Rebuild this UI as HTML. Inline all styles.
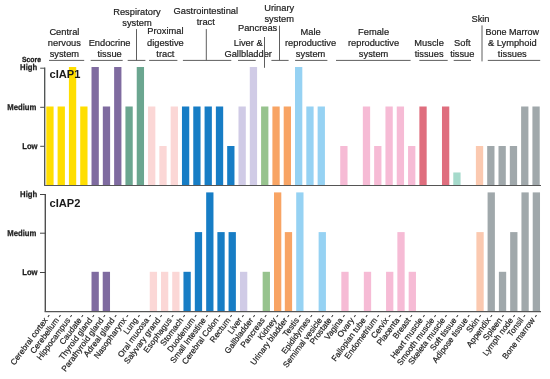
<!DOCTYPE html><html><head><meta charset="utf-8"><style>
html,body{margin:0;padding:0;background:#fff;overflow:hidden;}
svg{display:block;will-change:transform;}
text{font-family:"Liberation Sans",sans-serif;}
</style></head><body>
<svg width="550" height="379" viewBox="0 0 550 379">
<rect width="550" height="379" fill="#fff"/>
<rect x="46.30" y="106.50" width="7.3" height="79.00" fill="#FFDE00"/>
<rect x="57.60" y="106.50" width="7.3" height="79.00" fill="#FFDE00"/>
<rect x="68.91" y="67.00" width="7.3" height="118.50" fill="#FFDE00"/>
<rect x="80.22" y="106.50" width="7.3" height="79.00" fill="#FFDE00"/>
<rect x="91.52" y="67.00" width="7.3" height="118.50" fill="#7F6BA0"/>
<rect x="91.52" y="271.80" width="7.3" height="39.70" fill="#7F6BA0"/>
<rect x="102.82" y="106.50" width="7.3" height="79.00" fill="#7F6BA0"/>
<rect x="102.72" y="271.80" width="7.3" height="39.70" fill="#7F6BA0"/>
<rect x="114.13" y="67.00" width="7.3" height="118.50" fill="#7F6BA0"/>
<rect x="125.43" y="106.50" width="7.3" height="79.00" fill="#6BA690"/>
<rect x="136.74" y="67.00" width="7.3" height="118.50" fill="#6BA690"/>
<rect x="148.05" y="106.50" width="7.3" height="79.00" fill="#FBD7D6"/>
<rect x="149.75" y="271.80" width="7.3" height="39.70" fill="#FBD7D6"/>
<rect x="159.35" y="146.00" width="7.3" height="39.50" fill="#FBD7D6"/>
<rect x="160.98" y="271.80" width="7.3" height="39.70" fill="#FBD7D6"/>
<rect x="170.65" y="106.50" width="7.3" height="79.00" fill="#FBD7D6"/>
<rect x="172.22" y="271.80" width="7.3" height="39.70" fill="#FBD7D6"/>
<rect x="181.96" y="106.50" width="7.3" height="79.00" fill="#177DC5"/>
<rect x="183.46" y="271.80" width="7.3" height="39.70" fill="#177DC5"/>
<rect x="193.26" y="106.50" width="7.3" height="79.00" fill="#177DC5"/>
<rect x="194.81" y="232.10" width="7.3" height="79.40" fill="#177DC5"/>
<rect x="204.57" y="106.50" width="7.3" height="79.00" fill="#177DC5"/>
<rect x="206.17" y="192.40" width="7.3" height="119.10" fill="#177DC5"/>
<rect x="215.88" y="106.50" width="7.3" height="79.00" fill="#177DC5"/>
<rect x="217.38" y="232.10" width="7.3" height="79.40" fill="#177DC5"/>
<rect x="227.18" y="146.00" width="7.3" height="39.50" fill="#177DC5"/>
<rect x="228.58" y="232.10" width="7.3" height="79.40" fill="#177DC5"/>
<rect x="238.49" y="106.50" width="7.3" height="79.00" fill="#D0CBE6"/>
<rect x="239.99" y="271.80" width="7.3" height="39.70" fill="#D0CBE6"/>
<rect x="249.79" y="67.00" width="7.3" height="118.50" fill="#D0CBE6"/>
<rect x="261.09" y="106.50" width="7.3" height="79.00" fill="#97C38E"/>
<rect x="262.66" y="271.80" width="7.3" height="39.70" fill="#97C38E"/>
<rect x="272.40" y="106.50" width="7.3" height="79.00" fill="#F8A464"/>
<rect x="274.00" y="192.40" width="7.3" height="119.10" fill="#F8A464"/>
<rect x="283.70" y="106.50" width="7.3" height="79.00" fill="#F8A464"/>
<rect x="284.81" y="232.10" width="7.3" height="79.40" fill="#F8A464"/>
<rect x="295.01" y="67.00" width="7.3" height="118.50" fill="#96D2F3"/>
<rect x="296.21" y="192.40" width="7.3" height="119.10" fill="#96D2F3"/>
<rect x="306.31" y="106.50" width="7.3" height="79.00" fill="#96D2F3"/>
<rect x="317.62" y="106.50" width="7.3" height="79.00" fill="#96D2F3"/>
<rect x="318.62" y="232.10" width="7.3" height="79.40" fill="#96D2F3"/>
<rect x="340.23" y="146.00" width="7.3" height="39.50" fill="#F6BBD5"/>
<rect x="341.33" y="271.80" width="7.3" height="39.70" fill="#F6BBD5"/>
<rect x="362.84" y="106.50" width="7.3" height="79.00" fill="#F6BBD5"/>
<rect x="363.84" y="271.80" width="7.3" height="39.70" fill="#F6BBD5"/>
<rect x="374.14" y="146.00" width="7.3" height="39.50" fill="#F6BBD5"/>
<rect x="385.45" y="106.50" width="7.3" height="79.00" fill="#F6BBD5"/>
<rect x="386.05" y="271.80" width="7.3" height="39.70" fill="#F6BBD5"/>
<rect x="396.75" y="106.50" width="7.3" height="79.00" fill="#F6BBD5"/>
<rect x="397.36" y="232.10" width="7.3" height="79.40" fill="#F6BBD5"/>
<rect x="408.06" y="146.00" width="7.3" height="39.50" fill="#F6BBD5"/>
<rect x="408.66" y="271.80" width="7.3" height="39.70" fill="#F6BBD5"/>
<rect x="419.37" y="106.50" width="7.3" height="79.00" fill="#DF6E7E"/>
<rect x="441.98" y="106.50" width="7.3" height="79.00" fill="#DF6E7E"/>
<rect x="453.28" y="172.47" width="7.3" height="13.03" fill="#A5DACB"/>
<rect x="475.89" y="146.00" width="7.3" height="39.50" fill="#FBC9B0"/>
<rect x="476.39" y="232.10" width="7.3" height="79.40" fill="#FBC9B0"/>
<rect x="487.19" y="146.00" width="7.3" height="39.50" fill="#A0A8AB"/>
<rect x="487.59" y="192.40" width="7.3" height="119.10" fill="#A0A8AB"/>
<rect x="498.50" y="146.00" width="7.3" height="39.50" fill="#A0A8AB"/>
<rect x="498.88" y="271.80" width="7.3" height="39.70" fill="#A0A8AB"/>
<rect x="509.81" y="146.00" width="7.3" height="39.50" fill="#A0A8AB"/>
<rect x="510.16" y="232.10" width="7.3" height="79.40" fill="#A0A8AB"/>
<rect x="521.11" y="106.50" width="7.3" height="79.00" fill="#A0A8AB"/>
<rect x="521.44" y="192.40" width="7.3" height="119.10" fill="#A0A8AB"/>
<rect x="532.41" y="106.50" width="7.3" height="79.00" fill="#A0A8AB"/>
<rect x="532.71" y="192.40" width="7.3" height="119.10" fill="#A0A8AB"/>
<path d="M44.7 67.6V185.5" fill="none" stroke="#4a4e4e" stroke-width="1.3"/>
<path d="M44.1 185.5H541" fill="none" stroke="#555" stroke-width="1.2"/>
<path d="M40.2 68.2H44.7M40.2 107.3H44.7M40.2 146.3H44.7" stroke="#4a4e4e" stroke-width="1"/>
<path d="M45.3 194V311.6" fill="none" stroke="#505050" stroke-width="1.4"/>
<path d="M44.6 311.6H541" fill="none" stroke="#555" stroke-width="1.3"/>
<path d="M40 194.5H45.3M40 233.2H45.3M40 272.5H45.3" stroke="#444" stroke-width="1"/>
<text transform="translate(31.5,62) scale(0.92,1)" font-size="7.4" font-weight="bold" text-anchor="middle" fill="#1a1a1a" stroke="#1a1a1a" stroke-width="0.3" text-rendering="geometricPrecision">Score</text>
<text transform="translate(37.2,70.4) scale(0.905,1)" font-size="8.5" font-weight="bold" text-anchor="end" fill="#1a1a1a" stroke="#1a1a1a" stroke-width="0.25" text-rendering="geometricPrecision">High</text>
<text transform="translate(36.4,109.5) scale(0.905,1)" font-size="8.5" font-weight="bold" text-anchor="end" fill="#1a1a1a" stroke="#1a1a1a" stroke-width="0.25" text-rendering="geometricPrecision">Medium</text>
<text transform="translate(37.6,148.7) scale(0.905,1)" font-size="8.5" font-weight="bold" text-anchor="end" fill="#1a1a1a" stroke="#1a1a1a" stroke-width="0.25" text-rendering="geometricPrecision">Low</text>
<text transform="translate(37.2,197.2) scale(0.905,1)" font-size="8.5" font-weight="bold" text-anchor="end" fill="#1a1a1a" stroke="#1a1a1a" stroke-width="0.25" text-rendering="geometricPrecision">High</text>
<text transform="translate(36.4,235.9) scale(0.905,1)" font-size="8.5" font-weight="bold" text-anchor="end" fill="#1a1a1a" stroke="#1a1a1a" stroke-width="0.25" text-rendering="geometricPrecision">Medium</text>
<text transform="translate(37.6,275.1) scale(0.905,1)" font-size="8.5" font-weight="bold" text-anchor="end" fill="#1a1a1a" stroke="#1a1a1a" stroke-width="0.25" text-rendering="geometricPrecision">Low</text>
<text x="49.6" y="78.4" font-size="11.1" font-weight="bold" fill="#1a1a1a">cIAP1</text>
<text x="49.6" y="206.5" font-size="11.1" font-weight="bold" fill="#1a1a1a">cIAP2</text>
<text x="64.4" y="34.70" font-size="9.3" text-anchor="middle" fill="#1c1c1c" stroke="#1c1c1c" stroke-width="0.2">Central</text>
<text x="64.4" y="45.90" font-size="9.3" text-anchor="middle" fill="#1c1c1c" stroke="#1c1c1c" stroke-width="0.2">nervous</text>
<text x="64.4" y="57.10" font-size="9.3" text-anchor="middle" fill="#1c1c1c" stroke="#1c1c1c" stroke-width="0.2">system</text>
<text x="109.6" y="45.60" font-size="9.3" text-anchor="middle" fill="#1c1c1c" stroke="#1c1c1c" stroke-width="0.2">Endocrine</text>
<text x="109.6" y="56.80" font-size="9.3" text-anchor="middle" fill="#1c1c1c" stroke="#1c1c1c" stroke-width="0.2">tissue</text>
<text x="137.0" y="14.60" font-size="9.3" text-anchor="middle" fill="#1c1c1c" stroke="#1c1c1c" stroke-width="0.2">Respiratory</text>
<text x="137.0" y="25.80" font-size="9.3" text-anchor="middle" fill="#1c1c1c" stroke="#1c1c1c" stroke-width="0.2">system</text>
<text x="165.4" y="34.40" font-size="9.3" text-anchor="middle" fill="#1c1c1c" stroke="#1c1c1c" stroke-width="0.2">Proximal</text>
<text x="165.4" y="45.60" font-size="9.3" text-anchor="middle" fill="#1c1c1c" stroke="#1c1c1c" stroke-width="0.2">digestive</text>
<text x="165.4" y="56.80" font-size="9.3" text-anchor="middle" fill="#1c1c1c" stroke="#1c1c1c" stroke-width="0.2">tract</text>
<text x="205.8" y="13.70" font-size="9.3" text-anchor="middle" fill="#1c1c1c" stroke="#1c1c1c" stroke-width="0.2">Gastrointestinal</text>
<text x="205.8" y="24.90" font-size="9.3" text-anchor="middle" fill="#1c1c1c" stroke="#1c1c1c" stroke-width="0.2">tract</text>
<text x="257.6" y="31.30" font-size="9.3" text-anchor="middle" fill="#1c1c1c" stroke="#1c1c1c" stroke-width="0.2">Pancreas</text>
<text x="248.2" y="45.60" font-size="9.3" text-anchor="middle" fill="#1c1c1c" stroke="#1c1c1c" stroke-width="0.2">Liver &amp;</text>
<text x="248.2" y="56.80" font-size="9.3" text-anchor="middle" fill="#1c1c1c" stroke="#1c1c1c" stroke-width="0.2">Gallbladder</text>
<text x="279.2" y="11.10" font-size="9.3" text-anchor="middle" fill="#1c1c1c" stroke="#1c1c1c" stroke-width="0.2">Urinary</text>
<text x="279.2" y="22.30" font-size="9.3" text-anchor="middle" fill="#1c1c1c" stroke="#1c1c1c" stroke-width="0.2">system</text>
<text x="310.6" y="34.90" font-size="9.3" text-anchor="middle" fill="#1c1c1c" stroke="#1c1c1c" stroke-width="0.2">Male</text>
<text x="310.6" y="46.10" font-size="9.3" text-anchor="middle" fill="#1c1c1c" stroke="#1c1c1c" stroke-width="0.2">reproductive</text>
<text x="310.6" y="57.30" font-size="9.3" text-anchor="middle" fill="#1c1c1c" stroke="#1c1c1c" stroke-width="0.2">system</text>
<text x="373.6" y="34.90" font-size="9.3" text-anchor="middle" fill="#1c1c1c" stroke="#1c1c1c" stroke-width="0.2">Female</text>
<text x="373.6" y="46.10" font-size="9.3" text-anchor="middle" fill="#1c1c1c" stroke="#1c1c1c" stroke-width="0.2">reproductive</text>
<text x="373.6" y="57.30" font-size="9.3" text-anchor="middle" fill="#1c1c1c" stroke="#1c1c1c" stroke-width="0.2">system</text>
<text x="429.1" y="45.70" font-size="9.3" text-anchor="middle" fill="#1c1c1c" stroke="#1c1c1c" stroke-width="0.2">Muscle</text>
<text x="429.1" y="56.90" font-size="9.3" text-anchor="middle" fill="#1c1c1c" stroke="#1c1c1c" stroke-width="0.2">tissues</text>
<text x="462.3" y="45.70" font-size="9.3" text-anchor="middle" fill="#1c1c1c" stroke="#1c1c1c" stroke-width="0.2">Soft</text>
<text x="462.3" y="56.90" font-size="9.3" text-anchor="middle" fill="#1c1c1c" stroke="#1c1c1c" stroke-width="0.2">tissue</text>
<text x="480.5" y="21.50" font-size="9.3" text-anchor="middle" fill="#1c1c1c" stroke="#1c1c1c" stroke-width="0.2">Skin</text>
<text x="512.3" y="34.90" font-size="9.0" text-anchor="middle" fill="#1c1c1c" stroke="#1c1c1c" stroke-width="0.2">Bone Marrow</text>
<text x="512.3" y="46.10" font-size="9.3" text-anchor="middle" fill="#1c1c1c" stroke="#1c1c1c" stroke-width="0.2">&amp; Lymphoid</text>
<text x="512.3" y="57.30" font-size="9.3" text-anchor="middle" fill="#1c1c1c" stroke="#1c1c1c" stroke-width="0.2">tissues</text>
<line x1="49" y1="60.4" x2="84.2" y2="60.4" stroke="#5e5e5e" stroke-width="1"/>
<line x1="90.7" y1="60.4" x2="122.7" y2="60.4" stroke="#5e5e5e" stroke-width="1"/>
<line x1="127.7" y1="60.4" x2="145.4" y2="60.4" stroke="#5e5e5e" stroke-width="1"/>
<line x1="149.1" y1="60.4" x2="177.4" y2="60.4" stroke="#5e5e5e" stroke-width="1"/>
<line x1="182.9" y1="60.4" x2="231.3" y2="60.4" stroke="#5e5e5e" stroke-width="1"/>
<line x1="238" y1="60.4" x2="255.7" y2="60.4" stroke="#5e5e5e" stroke-width="1"/>
<line x1="271.4" y1="60.4" x2="288.6" y2="60.4" stroke="#5e5e5e" stroke-width="1"/>
<line x1="295.1" y1="60.4" x2="327.4" y2="60.4" stroke="#5e5e5e" stroke-width="1"/>
<line x1="336" y1="60.4" x2="410.6" y2="60.4" stroke="#5e5e5e" stroke-width="1"/>
<line x1="419.3" y1="60.4" x2="447.7" y2="60.4" stroke="#5e5e5e" stroke-width="1"/>
<line x1="453.7" y1="60.4" x2="471.0" y2="60.4" stroke="#5e5e5e" stroke-width="1"/>
<line x1="487.8" y1="60.4" x2="540.2" y2="60.4" stroke="#5e5e5e" stroke-width="1"/>
<line x1="136.5" y1="29.1" x2="136.5" y2="60.4" stroke="#5e5e5e" stroke-width="1"/>
<line x1="206.3" y1="29.1" x2="206.3" y2="60.4" stroke="#5e5e5e" stroke-width="1"/>
<line x1="264.5" y1="37.0" x2="264.5" y2="67.8" stroke="#5e5e5e" stroke-width="1"/>
<line x1="279.5" y1="25.7" x2="279.5" y2="60.4" stroke="#5e5e5e" stroke-width="1"/>
<line x1="482.0" y1="25.4" x2="482.0" y2="61.4" stroke="#5e5e5e" stroke-width="1"/>
<text transform="translate(51.07,316.24) rotate(-53.5)" font-size="8.25" text-anchor="end" fill="#222" stroke="#222" stroke-width="0.2">Cerebral cortex -</text>
<text transform="translate(62.37,316.24) rotate(-53.5)" font-size="8.25" text-anchor="end" fill="#222" stroke="#222" stroke-width="0.2">Cerebellum -</text>
<text transform="translate(73.68,316.24) rotate(-53.5)" font-size="8.25" text-anchor="end" fill="#222" stroke="#222" stroke-width="0.2">Hippocampus -</text>
<text transform="translate(84.99,316.24) rotate(-53.5)" font-size="8.25" text-anchor="end" fill="#222" stroke="#222" stroke-width="0.2">Caudate -</text>
<text transform="translate(95.79,316.24) rotate(-53.5)" font-size="8.25" text-anchor="end" fill="#222" stroke="#222" stroke-width="0.2">Thyroid gland -</text>
<text transform="translate(106.99,316.24) rotate(-53.5)" font-size="8.25" text-anchor="end" fill="#222" stroke="#222" stroke-width="0.2">Parathyroid gland -</text>
<text transform="translate(118.10,316.24) rotate(-53.5)" font-size="8.25" text-anchor="end" fill="#222" stroke="#222" stroke-width="0.2">Adreal gland -</text>
<text transform="translate(129.80,316.24) rotate(-53.5)" font-size="8.25" text-anchor="end" fill="#222" stroke="#222" stroke-width="0.2">Nasopharynx -</text>
<text transform="translate(141.31,316.24) rotate(-53.5)" font-size="8.25" text-anchor="end" fill="#222" stroke="#222" stroke-width="0.2">Lung -</text>
<text transform="translate(152.52,316.24) rotate(-53.5)" font-size="8.25" text-anchor="end" fill="#222" stroke="#222" stroke-width="0.2">Oral mucosa -</text>
<text transform="translate(163.62,316.24) rotate(-53.5)" font-size="8.25" text-anchor="end" fill="#222" stroke="#222" stroke-width="0.2">Salyvary grand -</text>
<text transform="translate(175.12,316.24) rotate(-53.5)" font-size="8.25" text-anchor="end" fill="#222" stroke="#222" stroke-width="0.2">Esophagus -</text>
<text transform="translate(186.73,316.24) rotate(-53.5)" font-size="8.25" text-anchor="end" fill="#222" stroke="#222" stroke-width="0.2">Stomach -</text>
<text transform="translate(198.23,316.24) rotate(-53.5)" font-size="8.25" text-anchor="end" fill="#222" stroke="#222" stroke-width="0.2">Duodenum -</text>
<text transform="translate(209.34,316.24) rotate(-53.5)" font-size="8.25" text-anchor="end" fill="#222" stroke="#222" stroke-width="0.2">Small Intestine -</text>
<text transform="translate(221.94,316.24) rotate(-53.5)" font-size="8.25" text-anchor="end" fill="#222" stroke="#222" stroke-width="0.2">Cerebral Colon -</text>
<text transform="translate(233.75,316.24) rotate(-53.5)" font-size="8.25" text-anchor="end" fill="#222" stroke="#222" stroke-width="0.2">Rectum -</text>
<text transform="translate(245.36,316.24) rotate(-53.5)" font-size="8.25" text-anchor="end" fill="#222" stroke="#222" stroke-width="0.2">Liver -</text>
<text transform="translate(256.66,316.24) rotate(-53.5)" font-size="8.25" text-anchor="end" fill="#222" stroke="#222" stroke-width="0.2">Gallbladder -</text>
<text transform="translate(268.26,316.24) rotate(-53.5)" font-size="8.25" text-anchor="end" fill="#222" stroke="#222" stroke-width="0.2">Pancreas -</text>
<text transform="translate(279.87,316.24) rotate(-53.5)" font-size="8.25" text-anchor="end" fill="#222" stroke="#222" stroke-width="0.2">Kidney -</text>
<text transform="translate(290.97,316.24) rotate(-53.5)" font-size="8.25" text-anchor="end" fill="#222" stroke="#222" stroke-width="0.2">Urinary bladder -</text>
<text transform="translate(302.38,316.24) rotate(-53.5)" font-size="8.25" text-anchor="end" fill="#222" stroke="#222" stroke-width="0.2">Testis -</text>
<text transform="translate(313.79,316.24) rotate(-53.5)" font-size="8.25" text-anchor="end" fill="#222" stroke="#222" stroke-width="0.2">Epididymes -</text>
<text transform="translate(325.49,316.24) rotate(-53.5)" font-size="8.25" text-anchor="end" fill="#222" stroke="#222" stroke-width="0.2">Semimal vesicle -</text>
<text transform="translate(335.00,316.24) rotate(-53.5)" font-size="8.25" text-anchor="end" fill="#222" stroke="#222" stroke-width="0.2">Prostate -</text>
<text transform="translate(346.30,316.24) rotate(-53.5)" font-size="8.25" text-anchor="end" fill="#222" stroke="#222" stroke-width="0.2">Vagina -</text>
<text transform="translate(357.41,316.24) rotate(-53.5)" font-size="8.25" text-anchor="end" fill="#222" stroke="#222" stroke-width="0.2">Ovary -</text>
<text transform="translate(369.21,316.24) rotate(-53.5)" font-size="8.25" text-anchor="end" fill="#222" stroke="#222" stroke-width="0.2">Fallopian tube -</text>
<text transform="translate(380.62,316.24) rotate(-53.5)" font-size="8.25" text-anchor="end" fill="#222" stroke="#222" stroke-width="0.2">Endometrium -</text>
<text transform="translate(392.02,316.24) rotate(-53.5)" font-size="8.25" text-anchor="end" fill="#222" stroke="#222" stroke-width="0.2">Cervix -</text>
<text transform="translate(402.93,316.24) rotate(-53.5)" font-size="8.25" text-anchor="end" fill="#222" stroke="#222" stroke-width="0.2">Placenta -</text>
<text transform="translate(413.93,316.24) rotate(-53.5)" font-size="8.25" text-anchor="end" fill="#222" stroke="#222" stroke-width="0.2">Breast -</text>
<text transform="translate(426.34,316.24) rotate(-53.5)" font-size="8.25" text-anchor="end" fill="#222" stroke="#222" stroke-width="0.2">Heart muscle -</text>
<text transform="translate(437.74,316.24) rotate(-53.5)" font-size="8.25" text-anchor="end" fill="#222" stroke="#222" stroke-width="0.2">Smooth muscle -</text>
<text transform="translate(448.45,316.24) rotate(-53.5)" font-size="8.25" text-anchor="end" fill="#222" stroke="#222" stroke-width="0.2">Skeleta muscle -</text>
<text transform="translate(459.95,316.24) rotate(-53.5)" font-size="8.25" text-anchor="end" fill="#222" stroke="#222" stroke-width="0.2">Soft tissue -</text>
<text transform="translate(471.25,316.24) rotate(-53.5)" font-size="8.25" text-anchor="end" fill="#222" stroke="#222" stroke-width="0.2">Adipose tissue -</text>
<text transform="translate(482.76,316.24) rotate(-53.5)" font-size="8.25" text-anchor="end" fill="#222" stroke="#222" stroke-width="0.2">Skin -</text>
<text transform="translate(493.87,316.24) rotate(-53.5)" font-size="8.25" text-anchor="end" fill="#222" stroke="#222" stroke-width="0.2">Appendix -</text>
<text transform="translate(505.37,316.24) rotate(-53.5)" font-size="8.25" text-anchor="end" fill="#222" stroke="#222" stroke-width="0.2">Spleen -</text>
<text transform="translate(516.58,316.24) rotate(-53.5)" font-size="8.25" text-anchor="end" fill="#222" stroke="#222" stroke-width="0.2">Lymph node -</text>
<text transform="translate(526.88,316.24) rotate(-53.5)" font-size="8.25" text-anchor="end" fill="#222" stroke="#222" stroke-width="0.2">Tonsil -</text>
<text transform="translate(538.38,316.24) rotate(-53.5)" font-size="8.25" text-anchor="end" fill="#222" stroke="#222" stroke-width="0.2">Bone marrow -</text>
</svg></body></html>
